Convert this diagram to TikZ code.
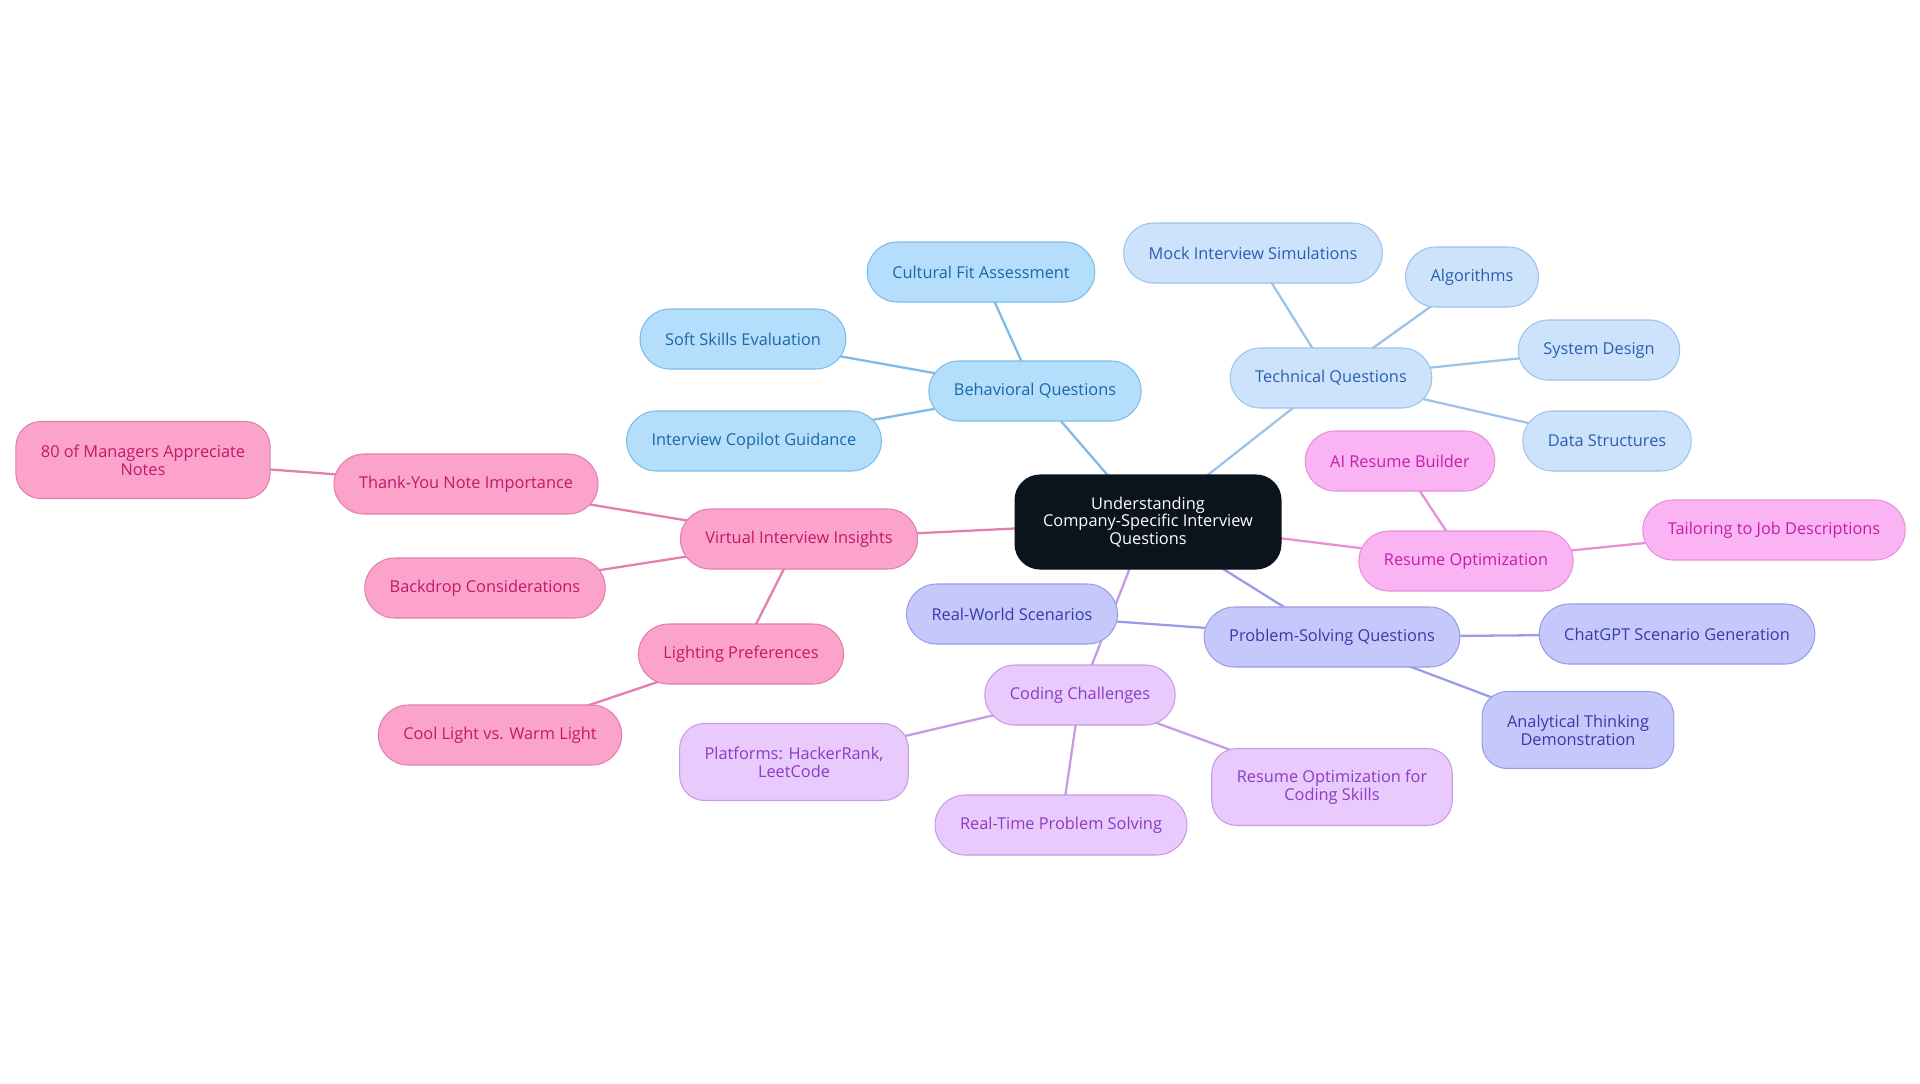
\documentclass[tikz,border=0pt]{standalone}
\usepackage{fontspec}
\setmainfont{Open Sans}
\usepackage{tikz}
\usetikzlibrary{backgrounds}
\definecolor{rootfill}{HTML}{0B131C}
\definecolor{behavfill}{HTML}{B4DEFB}
\definecolor{behavline}{HTML}{7DBBE8}
\definecolor{behavtext}{HTML}{1A68A8}
\definecolor{techfill}{HTML}{CCE3FB}
\definecolor{techline}{HTML}{9DC3EA}
\definecolor{techtext}{HTML}{2B5FAE}
\definecolor{resfill}{HTML}{FBB4F3}
\definecolor{resline}{HTML}{E88FD9}
\definecolor{restext}{HTML}{C21FA8}
\definecolor{probfill}{HTML}{C5C8FB}
\definecolor{probline}{HTML}{999DE6}
\definecolor{probtext}{HTML}{3A3AA6}
\definecolor{codefill}{HTML}{E8CAFC}
\definecolor{codeline}{HTML}{C79AE6}
\definecolor{codetext}{HTML}{8B3CC2}
\definecolor{virtfill}{HTML}{FCA3CC}
\definecolor{virtline}{HTML}{E07FB0}
\definecolor{virttext}{HTML}{C2186B}
\tikzset{
  topic/.style={draw, rounded corners=0.6cm, align=center, minimum height=1.2cm, inner xsep=0.5cm, font=\fontsize{9.3}{10.4}\selectfont, line width=0.6pt},
  twoline/.style={rounded corners=0.5cm, minimum height=1.54cm},
  root/.style={topic, fill=rootfill, draw=rootfill, text=white, rounded corners=0.5cm, minimum width=5.32cm, minimum height=1.88cm, font=\fontsize{9.3}{10}\selectfont},
  behav/.style={topic, fill=behavfill, draw=behavline, text=behavtext},
  tech/.style={topic, fill=techfill, draw=techline, text=techtext},
  res/.style={topic, fill=resfill, draw=resline, text=restext},
  prob/.style={topic, fill=probfill, draw=probline, text=probtext},
  code/.style={topic, fill=codefill, draw=codeline, text=codetext},
  virt/.style={topic, fill=virtfill, draw=virtline, text=virttext},
  link/.style={line width=1.3pt}}

\begin{document}
\begin{tikzpicture}[x=0.02cm, y=-0.02cm]
  \useasboundingbox (0,0) rectangle (1920,1083);
  % centre
  \node[root] (root) at (1148,522) {Understanding\\Company-Specific Interview\\Questions};
  % behavioral branch
  \node[behav] (behav) at (1035,391) {Behavioral Questions};
  \node[behav] (cult) at (981,272) {Cultural Fit Assessment};
  \node[behav] (soft) at (743,339) {Soft Skills Evaluation};
  \node[behav] (copilot) at (754,441) {Interview Copilot Guidance};
  % technical branch
  \node[tech] (tech) at (1331,378) {Technical Questions};
  \node[tech] (mock) at (1253,253) {Mock Interview Simulations};
  \node[tech] (algo) at (1472,277) {Algorithms};
  \node[tech] (sysd) at (1599,350) {System Design};
  \node[tech] (dstr) at (1607,441) {Data Structures};
  % resume branch
  \node[res] (resopt) at (1466,561) {Resume Optimization};
  \node[res] (aires) at (1400,461) {AI Resume Builder};
  \node[res] (tailor) at (1774,530) {Tailoring to Job Descriptions};
  % problem-solving branch
  \node[prob] (prob) at (1332,637) {Problem-Solving Questions};
  \node[prob] (real) at (1012,614) {Real-World Scenarios};
  \node[prob] (gpt) at (1677,634) {ChatGPT Scenario Generation};
  \node[prob, twoline] (anal) at (1578,730) {Analytical Thinking\\Demonstration};
  % coding branch
  \node[code] (code) at (1080,695) {Coding Challenges};
  \node[code, twoline] (plat) at (794,762) {Platforms: HackerRank,\\LeetCode};
  \node[code] (rtps) at (1061,825) {Real-Time Problem Solving};
  \node[code, twoline] (rocs) at (1332,787) {Resume Optimization for\\Coding Skills};
  % virtual branch
  \node[virt] (virt) at (799,539) {Virtual Interview Insights};
  \node[virt] (thank) at (466,484) {Thank-You Note Importance};
  \node[virt, twoline] (mgr) at (143,460) {80 of Managers Appreciate\\Notes};
  \node[virt] (back) at (485,588) {Backdrop Considerations};
  \node[virt] (light) at (741,654) {Lighting Preferences};
  \node[virt] (cool) at (500,735) {Cool Light vs. Warm Light};
  % links
  \begin{scope}[on background layer]
    \foreach \a/\b/\c in {root/behav/behavline, behav/cult/behavline, behav/soft/behavline, behav/copilot/behavline,
      root/tech/techline, tech/mock/techline, tech/algo/techline, tech/sysd/techline, tech/dstr/techline,
      root/resopt/resline, resopt/aires/resline, resopt/tailor/resline,
      root/prob/probline, prob/real/probline, prob/gpt/probline, prob/anal/probline,
      root/code/codeline, code/plat/codeline, code/rtps/codeline, code/rocs/codeline,
      root/virt/virtline, virt/thank/virtline, thank/mgr/virtline, virt/back/virtline, virt/light/virtline, light/cool/virtline}
      \draw[link, draw=\c] (\a.center) -- (\b.center);
  \end{scope}
\end{tikzpicture}
\end{document}
